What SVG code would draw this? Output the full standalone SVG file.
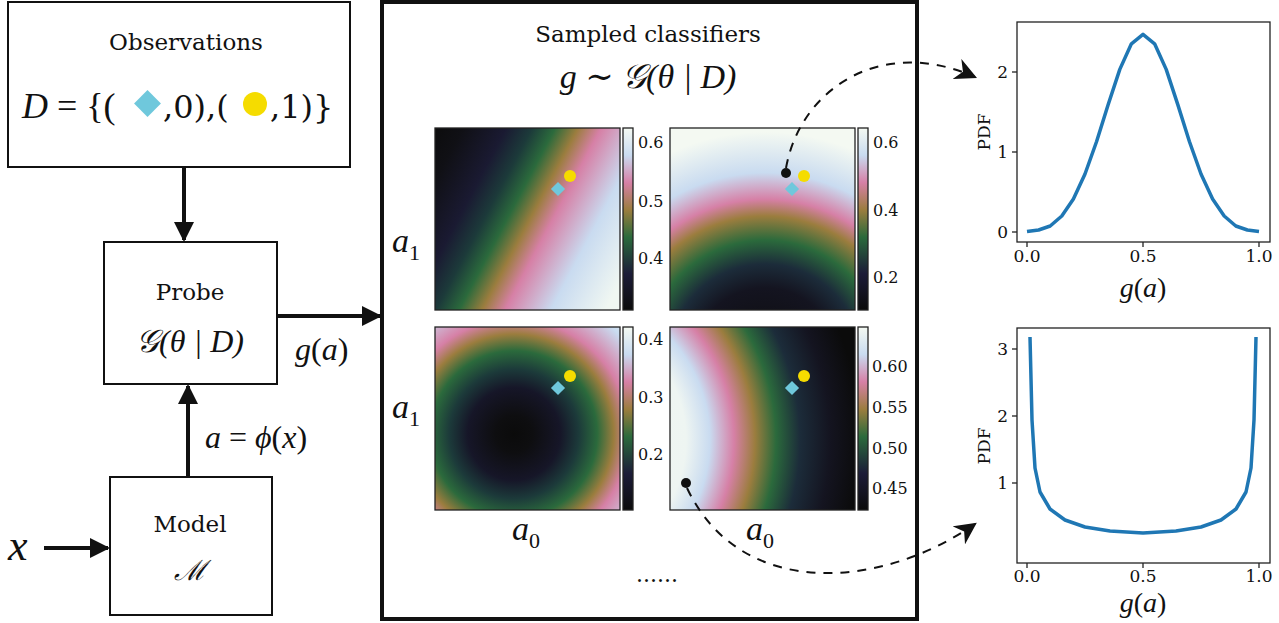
<svg xmlns="http://www.w3.org/2000/svg" width="1279" height="623" viewBox="0 0 1279 623">
<style>
.box{fill:#fff;stroke:#111;stroke-width:2}
.t{font-family:"DejaVu Serif","Liberation Serif",serif;fill:#111}
.m{font-family:"Liberation Serif","DejaVu Serif",serif;font-style:italic;fill:#111}
.tk{font-family:"DejaVu Serif",serif;font-size:16px;fill:#111}
.ax{fill:none;stroke:#222;stroke-width:1.3}
.hm{stroke:#222;stroke-width:1.3}
.ar{stroke:#111;stroke-width:4;fill:none}
.dash{stroke:#111;stroke-width:2;fill:none;stroke-dasharray:9 8}
.cv{fill:none;stroke:#1f77b4;stroke-width:3.5;stroke-linejoin:round}
.yel{fill:#f5dc00}.cy{fill:#6fc8dc}
</style>
<defs>
<marker id="ah" viewBox="0 0 10 10" refX="9" refY="5" markerWidth="5" markerHeight="5" orient="auto" markerUnits="strokeWidth"><path d="M0,0L10,5L0,10z" fill="#111"/></marker>
<marker id="ah2" viewBox="0 0 10 10" refX="9" refY="5" markerWidth="11" markerHeight="11" orient="auto" markerUnits="strokeWidth"><path d="M0,0L10,5L0,10L3,5z" fill="#111"/></marker>
<linearGradient id="cb" x1="0" y1="1" x2="0" y2="0">
<stop offset="0" stop-color="#0b0b0b"/><stop offset="0.2" stop-color="#1c1c38"/><stop offset="0.4" stop-color="#2b6a3c"/><stop offset="0.55" stop-color="#9b7d3e"/><stop offset="0.7" stop-color="#d680a6"/><stop offset="0.85" stop-color="#c9dbf0"/><stop offset="1" stop-color="#f4f9f2"/>
</linearGradient>
<linearGradient id="g1" gradientUnits="userSpaceOnUse" x1="430" y1="125" x2="655" y2="244">
<stop offset="0" stop-color="#0b0b0b"/><stop offset="0.12" stop-color="#101015"/><stop offset="0.27" stop-color="#1a1a32"/><stop offset="0.36" stop-color="#1c3a3a"/><stop offset="0.44" stop-color="#2b6a3c"/><stop offset="0.52" stop-color="#9b7d3e"/><stop offset="0.6" stop-color="#d680a6"/><stop offset="0.76" stop-color="#c9dbf0"/><stop offset="0.95" stop-color="#f0f7f2"/>
</linearGradient>
<radialGradient id="g2" gradientUnits="userSpaceOnUse" cx="765" cy="360" r="240">
<stop offset="0" stop-color="#0b0b0b"/><stop offset="0.3" stop-color="#141420"/><stop offset="0.4" stop-color="#1c2c3a"/><stop offset="0.5" stop-color="#2b6a3c"/><stop offset="0.6" stop-color="#9b7d3e"/><stop offset="0.67" stop-color="#d680a6"/><stop offset="0.78" stop-color="#c9dbf0"/><stop offset="0.95" stop-color="#f4f9f2"/>
</radialGradient>
<radialGradient id="g3" gradientUnits="userSpaceOnUse" cx="514" cy="434" r="185">
<stop offset="0" stop-color="#0b0b0b"/><stop offset="0.1" stop-color="#0e0e10"/><stop offset="0.25" stop-color="#161628"/><stop offset="0.35" stop-color="#1c3a3a"/><stop offset="0.45" stop-color="#2b6a3c"/><stop offset="0.54" stop-color="#9b7d3e"/><stop offset="0.62" stop-color="#d680a6"/><stop offset="0.78" stop-color="#c9dbf0"/><stop offset="0.92" stop-color="#f4f9f2"/>
</radialGradient>
<radialGradient id="g4" gradientUnits="userSpaceOnUse" cx="560" cy="440" r="300">
<stop offset="0" stop-color="#f4f9f2"/><stop offset="0.42" stop-color="#eef5f2"/><stop offset="0.5" stop-color="#c9dbf0"/><stop offset="0.58" stop-color="#d680a6"/><stop offset="0.65" stop-color="#9b7d3e"/><stop offset="0.72" stop-color="#2b6a3c"/><stop offset="0.8" stop-color="#1c2c3a"/><stop offset="0.9" stop-color="#141420"/><stop offset="1" stop-color="#0b0b0b"/>
</radialGradient>
</defs>
<rect width="1279" height="623" fill="#fff"/>

<g id="observations">
<rect class="box" x="8" y="2" width="342" height="165"/>
<text class="t" x="186" y="50" font-size="23" text-anchor="middle">Observations</text>
<text class="m" x="22" y="118" font-size="36">D<tspan font-style="normal"> = {(</tspan></text>
<rect class="cy" x="138" y="94" width="19" height="19" transform="rotate(45 147.5 103.5)"/>
<text class="t" x="163" y="118" font-size="32">,0),(</text>
<circle class="yel" cx="255" cy="104" r="12"/>
<text class="t" x="270" y="118" font-size="32">,1)}</text>
</g>

<g id="probe">
<rect class="box" x="104" y="242" width="173" height="142"/>
<text class="t" x="190" y="300" font-size="23" text-anchor="middle">Probe</text>
<text class="m" x="190" y="352" font-size="32" text-anchor="middle">𝒢(θ | D)</text>
</g>

<g id="model">
<rect class="box" x="110" y="477" width="162" height="138"/>
<text class="t" x="190" y="532" font-size="23" text-anchor="middle">Model</text>
<text class="m" x="190" y="580" font-size="28" text-anchor="middle">ℳ</text>
</g>

<g id="input">
<text class="m" x="8" y="560" font-size="44">x</text>
</g>

<g id="classifiers">
<rect x="382" y="2" width="535" height="617" fill="#fff" stroke="#111" stroke-width="4"/>
<text class="t" x="648" y="42" font-size="23" text-anchor="middle">Sampled classifiers</text>
<text class="m" x="648" y="88" font-size="34" text-anchor="middle">g ∼ 𝒢(θ | D)</text>
<text class="m" x="392" y="252" font-size="34">a<tspan font-size="22" dy="8" font-style="normal">1</tspan></text>
<text class="m" x="392" y="418" font-size="34">a<tspan font-size="22" dy="8" font-style="normal">1</tspan></text>
<text class="m" x="512" y="540" font-size="34">a<tspan font-size="22" dy="8" font-style="normal">0</tspan></text>
<text class="m" x="746" y="540" font-size="34">a<tspan font-size="22" dy="8" font-style="normal">0</tspan></text>
<text class="t" x="657" y="582" font-size="22" text-anchor="middle">......</text>

<rect x="435" y="128" width="185" height="182" fill="url(#g1)" class="hm"/>
<rect x="623" y="128" width="10" height="182" fill="url(#cb)" class="hm"/>
<g class="tk"><text x="638" y="148">0.6</text><text x="638" y="207">0.5</text><text x="638" y="264">0.4</text></g>

<rect x="670" y="128" width="185" height="182" fill="url(#g2)" class="hm"/>
<rect x="858" y="128" width="10" height="182" fill="url(#cb)" class="hm"/>
<g class="tk"><text x="873" y="148">0.6</text><text x="873" y="216">0.4</text><text x="873" y="283">0.2</text></g>

<rect x="435" y="327" width="185" height="183" fill="url(#g3)" class="hm"/>
<rect x="623" y="327" width="10" height="183" fill="url(#cb)" class="hm"/>
<g class="tk"><text x="638" y="345">0.4</text><text x="638" y="403">0.3</text><text x="638" y="460">0.2</text></g>

<rect x="670" y="327" width="185" height="183" fill="url(#g4)" class="hm"/>
<rect x="858" y="327" width="10" height="183" fill="url(#cb)" class="hm"/>
<g class="tk"><text x="872" y="372">0.60</text><text x="872" y="413">0.55</text><text x="872" y="454">0.50</text><text x="872" y="494">0.45</text></g>

<circle class="yel" cx="570" cy="176" r="6"/><rect class="cy" x="553" y="184" width="10" height="10" transform="rotate(45 558 189)"/>
<circle class="yel" cx="804" cy="176" r="6"/><rect class="cy" x="787" y="184" width="10" height="10" transform="rotate(45 792 189)"/>
<circle class="yel" cx="570" cy="376" r="6"/><rect class="cy" x="553" y="383" width="10" height="10" transform="rotate(45 558 388)"/>
<circle class="yel" cx="804" cy="376" r="6"/><rect class="cy" x="787" y="383" width="10" height="10" transform="rotate(45 792 388)"/>
<circle cx="786" cy="173" r="5" fill="#111"/>
<circle cx="686" cy="483" r="5" fill="#111"/>
</g>

<g id="plot-top">
<rect class="ax" x="1017" y="22" width="253" height="220"/>
<g stroke="#222" stroke-width="1.3"><line x1="1012" y1="232" x2="1017" y2="232"/><line x1="1012" y1="152" x2="1017" y2="152"/><line x1="1012" y1="72" x2="1017" y2="72"/><line x1="1027" y1="242" x2="1027" y2="247"/><line x1="1143" y1="242" x2="1143" y2="247"/><line x1="1259" y1="242" x2="1259" y2="247"/></g>
<g class="tk" text-anchor="end"><text x="1008" y="238" style="font-size:17px">0</text><text x="1008" y="158" style="font-size:17px">1</text><text x="1008" y="78" style="font-size:17px">2</text></g>
<g class="tk" text-anchor="middle"><text x="1027" y="262" style="font-size:17px">0.0</text><text x="1143" y="262" style="font-size:17px">0.5</text><text x="1259" y="262" style="font-size:17px">1.0</text></g>
<text class="t" font-size="17" transform="translate(990 132) rotate(-90)" text-anchor="middle">PDF</text>
<text class="m" x="1143" y="297" font-size="28" text-anchor="middle">g<tspan font-style="normal">(</tspan>a<tspan font-style="normal">)</tspan></text>
<polyline class="cv" points="1027,231.5 1038.6,230 1050.2,226 1061.8,216 1073.4,199 1085,174 1096.6,141.5 1108.2,104.6 1119.8,69.4 1131.4,43.8 1143,34.4 1154.6,43.8 1166.2,69.4 1177.8,104.6 1189.4,141.5 1201,174 1212.6,199 1224.2,216 1235.8,226 1247.4,230 1259,231.5"/>
</g>

<g id="plot-bottom">
<rect class="ax" x="1017" y="328" width="253" height="235"/>
<g stroke="#222" stroke-width="1.3"><line x1="1012" y1="349" x2="1017" y2="349"/><line x1="1012" y1="416" x2="1017" y2="416"/><line x1="1012" y1="483" x2="1017" y2="483"/><line x1="1027" y1="563" x2="1027" y2="568"/><line x1="1143" y1="563" x2="1143" y2="568"/><line x1="1259" y1="563" x2="1259" y2="568"/></g>
<g class="tk" text-anchor="end"><text x="1008" y="355" style="font-size:17px">3</text><text x="1008" y="422" style="font-size:17px">2</text><text x="1008" y="489" style="font-size:17px">1</text></g>
<g class="tk" text-anchor="middle"><text x="1027" y="582" style="font-size:17px">0.0</text><text x="1143" y="582" style="font-size:17px">0.5</text><text x="1259" y="582" style="font-size:17px">1.0</text></g>
<text class="t" font-size="17" transform="translate(990 446) rotate(-90)" text-anchor="middle">PDF</text>
<text class="m" x="1143" y="612" font-size="28" text-anchor="middle">g<tspan font-style="normal">(</tspan>a<tspan font-style="normal">)</tspan></text>
<polyline class="cv" points="1030,337 1032,420 1035,468 1040,492 1050,509 1065,520 1085,527 1110,531 1143,533 1176,531 1201,527 1221,520 1236,509 1246,492 1251,468 1254,420 1256,337"/>
</g>

<g id="connectors">
<line class="ar" x1="184" y1="167" x2="184" y2="240" marker-end="url(#ah)"/>
<line class="ar" x1="188" y1="477" x2="188" y2="386" marker-end="url(#ah)"/>
<line class="ar" x1="277" y1="316" x2="380" y2="316" marker-end="url(#ah)"/>
<line class="ar" x1="44" y1="548" x2="108" y2="548" marker-end="url(#ah)"/>
<path class="dash" d="M786,168 C800,90 880,35 975,77" marker-end="url(#ah2)"/>
<path class="dash" d="M687,488 C740,600 880,590 975,524" marker-end="url(#ah2)"/>
<text class="m" x="295" y="360" font-size="32">g<tspan font-style="normal">(</tspan>a<tspan font-style="normal">)</tspan></text>
<text class="m" x="205" y="448" font-size="32">a<tspan font-style="normal"> = </tspan>ϕ<tspan font-style="normal">(</tspan>x<tspan font-style="normal">)</tspan></text>
</g>
</svg>
